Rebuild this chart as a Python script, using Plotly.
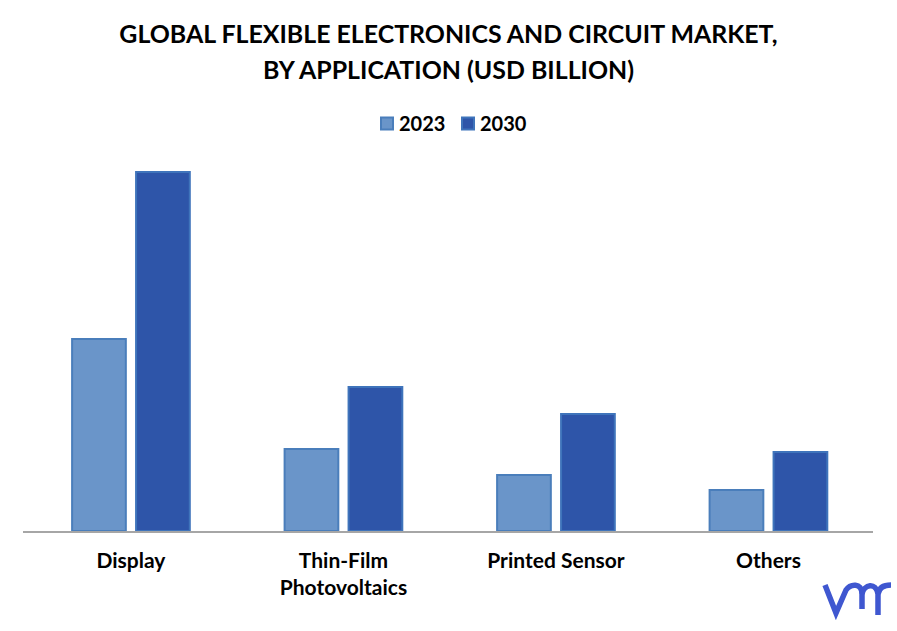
import plotly.graph_objects as go

categories = ["Display", "Thin-Film<br>Photovoltaics", "Printed Sensor", "Others"]
values_2023 = [192, 82, 56, 41]
values_2030 = [359, 144, 117, 79]
title_lines = ["GLOBAL FLEXIBLE ELECTRONICS AND CIRCUIT MARKET,", "BY APPLICATION (USD BILLION)"]
FONT = "Lato, Carlito, Calibri, sans-serif"
W, H = 897, 631
L, R, T, B = 23, 24, 131, 100
PW, PH = W - L - R, H - T - B

fig = go.Figure()
fig.add_bar(name="2023", x=categories, y=values_2023, marker=dict(color="#6a95c9", line=dict(color="#4a7ebb", width=2)))
fig.add_bar(name="2030", x=categories, y=values_2030, marker=dict(color="#2e55a9", line=dict(color="#3f74bb", width=2)))

def pt(x, y):
    return f"{(x - L) / PW:.5f},{(H - B - y) / PH:.5f}"

logo_paths = [
    f"M {pt(825,585)} L {pt(836,613)} L {pt(846,590)} C {pt(850,584)} {pt(862,582)} {pt(862,594)} L {pt(862,609)}",
    f"M {pt(862,594)} C {pt(864,584)} {pt(876,582)} {pt(878,594)} L {pt(878,615)}",
    f"M {pt(878,594)} C {pt(879,587)} {pt(885,585)} {pt(891,585)}",
]
shapes = [dict(type="path", xref="paper", yref="paper", path=p,
               line=dict(color="#3f57d0", width=5.5), layer="above") for p in logo_paths]

span = "<span style='font-size:24.9px'>{}</span>"
fig.update_layout(
    width=W, height=H,
    margin=dict(l=L, r=R, t=T, b=B),
    paper_bgcolor="white", plot_bgcolor="white",
    font=dict(family=FONT, color="#000000"),
    title=dict(text="<br>".join(span.format(t) for t in title_lines),
               x=0.5, xanchor="center", y=0.9315, yanchor="middle",
               font=dict(size=27.8, family=FONT, weight=700, color="#000000")),
    bargap=0.398, bargroupgap=0.16, barmode="group",
    legend=dict(orientation="h", x=0.5, xanchor="center", y=0.97, yanchor="bottom",
                entrywidth=36, entrywidthmode="pixels",
                font=dict(size=20, family=FONT, weight=700), traceorder="normal"),
    xaxis=dict(showline=True, linecolor="#a6a6a6", linewidth=1.5, ticks="", showgrid=False,
               range=[-0.508, 3.492], ticklabelstandoff=10,
               tickfont=dict(size=21, family=FONT, weight=700), tickangle=0),
    yaxis=dict(range=[0, 400], visible=False, showgrid=False),
    shapes=shapes,
)
# Tighten the swatch-to-label gap and let the compact legend's last label show in full.
post = """
document.body.style.margin='0';
document.querySelectorAll('.legend .scrollbox').forEach(e => e.removeAttribute('clip-path'));
document.querySelectorAll('.legend .legendtext').forEach(t => {
  t.setAttribute('x', parseFloat(t.getAttribute('x')) - 8);
});
"""
fig.write_html("out.html", config=dict(displayModeBar=False), post_script=post)
